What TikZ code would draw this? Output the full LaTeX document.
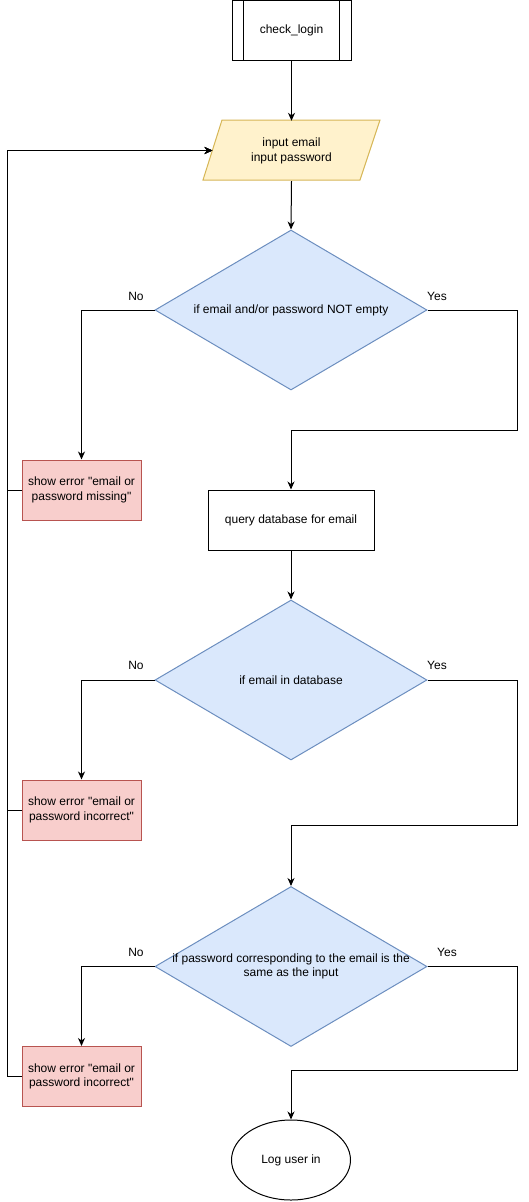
\documentclass[tikz,border=0pt]{standalone}
\usepackage{fontspec}
\newfontfamily\lsans{Liberation Sans}
\usetikzlibrary{shapes.geometric,arrows.meta}
\definecolor{decfill}{HTML}{DAE8FC}
\definecolor{decline}{HTML}{6C8EBF}
\definecolor{infill}{HTML}{FFF2CC}
\definecolor{inline}{HTML}{D6B656}
\definecolor{errfill}{HTML}{F8CECC}
\definecolor{errline}{HTML}{B85450}
\begin{document}
\begin{tikzpicture}[x=1pt,y=-1pt,
  every node/.style={font=\lsans\fontsize{12}{14.5}\selectfont},
  proc/.style={draw,line width=1pt,minimum width=166pt,minimum height=60pt,inner sep=0pt,align=center},
  errbox/.style={draw=errline,fill=errfill,line width=1pt,minimum width=119pt,minimum height=60pt,inner sep=0pt,align=center},
  dec/.style={diamond,draw=decline,fill=decfill,line width=1pt,minimum width=272pt,minimum height=160pt,inner sep=0pt,aspect=1.7},
  dtext/.style={align=center,inner sep=0pt},
  arr/.style={line width=1pt,-{Stealth[length=8pt,width=7pt,inset=2.5pt]}},
  ln/.style={line width=1pt},
  lbl/.style={inner sep=0pt}
]
\useasboundingbox (0,0) rectangle (528,1202);

% start
\node[draw,line width=1pt,minimum width=119pt,minimum height=60pt,inner sep=0pt] (start) at (291.5,30) {check\_login};
\draw[ln] ([xshift=11.5pt]start.north west) -- ([xshift=11.5pt]start.south west);
\draw[ln] ([xshift=-12pt]start.north east) -- ([xshift=-12pt]start.south east);

% input parallelogram
\filldraw[fill=infill,draw=inline,line width=1pt] (222,120) -- (380,120) -- (360,180) -- (203,180) -- cycle;
\node[minimum width=157pt,minimum height=60pt,inner sep=0pt,align=center] (inp) at (291.5,151) {input email\\input password};
\coordinate (inpL) at (212.5,150.5);

% decision 1
\node[dec] (d1) at (291,310) {};
\node[dtext] at (d1.center) {if email and/or password NOT empty};
\node[errbox] (e1) at (81.5,490) {show error "email or\\password missing"};
\node[proc] (q) at (291,520) {query database for email};

% decision 2
\node[dec] (d2) at (291,680) {};
\node[dtext] at (d2.center) {if email in database};
\node[errbox] (e2) at (81.5,810) {show error "email or\\password incorrect"};

% decision 3
\node[dec] (d3) at (291,966.5) {};
\node[dtext] at (d3.center) {if password corresponding to the email is the\\same as the input};
\node[errbox] (e3) at (81.5,1076.5) {show error "email or\\password incorrect"};

% end
\node[ellipse,draw,line width=1pt,minimum width=119pt,minimum height=80pt,inner sep=0pt] (endn) at (291,1160) {Log user in};

% connectors
\draw[arr] (start.south) -- (inp.north);
\draw[arr] (inp.south) -- (d1.north);

\draw[arr] (d1.west) -| (e1.north);
\draw[arr] (d1.east) -- ++(90,0) -- ++(0,120) -| (q.north);
\draw[arr] (q.south) -- (d2.north);

\draw[arr] (d2.west) -| (e2.north);
\draw[arr] (d2.east) -- ++(90,0) -- ++(0,145) -| (d3.north);

\draw[arr] (d3.west) -| (e3.north);
\draw[arr] (d3.east) -- ++(90,0) -- ++(0,104) -| (endn.north);

\draw[arr] (e1.west) -- ++(-14,0) |- (inpL);
\draw[arr] (e2.west) -- ++(-14,0) |- (inpL);
\draw[arr] (e3.west) -- ++(-14,0) |- (inpL);

% labels
\node[lbl] at (136,296) {No};
\node[lbl] at (437,296) {Yes};
\node[lbl] at (136,665) {No};
\node[lbl] at (437,665) {Yes};
\node[lbl] at (136,952) {No};
\node[lbl] at (447,952) {Yes};
\end{tikzpicture}
\end{document}
